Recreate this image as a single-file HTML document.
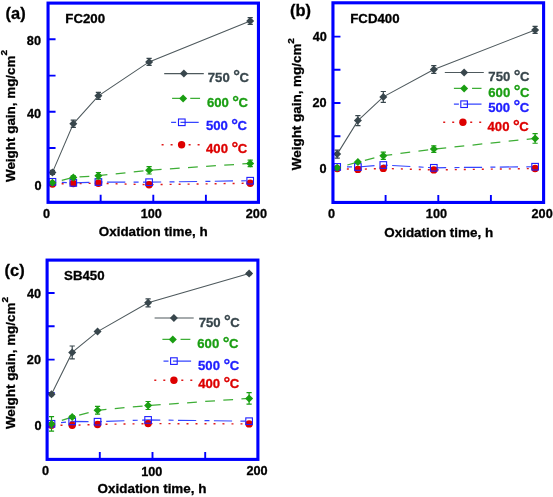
<!DOCTYPE html>
<html><head><meta charset="utf-8"><title>Weight gain vs oxidation time</title><style>html,body{margin:0;padding:0;background:#fff;}svg{display:block;}text{font-family:"Liberation Sans",Arial,sans-serif;font-weight:bold;}</style></head><body>
<svg width="553" height="497" viewBox="0 0 553 497">
<rect width="553" height="497" fill="#ffffff"/>
<clipPath id="clipa"><rect x="48.05" y="3.1" width="210.39999999999998" height="199.25"/></clipPath>
<path d="M48.05,184.2 H55.55 M48.05,148.0 H55.55 M48.05,111.8 H55.55 M48.05,75.6 H55.55 M48.05,39.3 H55.55 M100.65,202.35 V194.85 M153.3,202.35 V194.85 M205.9,202.35 V194.85" stroke="#0000ff" stroke-width="1.9" fill="none"/>
<g clip-path="url(#clipa)">
<polyline points="52.45,184.0 73.3,183.5 98.4,183.3 149.1,184.7 250.2,183.2" fill="none" stroke="#e01818" stroke-width="1.4" stroke-dasharray="2.0 7.0" stroke-dashoffset="8.82"/>
<polyline points="52.45,181.8 73.3,182.9 98.4,182.0 149.1,182.2 250.2,180.7" fill="none" stroke="#3545ff" stroke-width="1.2" stroke-dasharray="18.2 8.3 5 4.4" stroke-dashoffset="17.10"/>
<polyline points="52.45,182.8 73.3,177.4 98.4,175.7 149.1,170.3 250.2,163.4" fill="none" stroke="#3eae36" stroke-width="1.25" stroke-dasharray="9.8 8.35" stroke-dashoffset="8.51"/>
<polyline points="52.45,172.4 73.3,123.8 98.4,95.8 149.1,61.9 250.2,21.0" fill="none" stroke="#4e595d" stroke-width="1.05"/>
<circle cx="52.45" cy="184.0" r="3.7" fill="#dd0000"/>
<circle cx="73.3" cy="183.5" r="3.7" fill="#dd0000"/>
<circle cx="98.4" cy="183.3" r="3.7" fill="#dd0000"/>
<circle cx="149.1" cy="184.7" r="3.7" fill="#dd0000"/>
<circle cx="250.2" cy="183.2" r="3.7" fill="#dd0000"/>
<rect x="49.150000000000006" y="178.5" width="6.6" height="6.6" fill="none" stroke="#1e1eff" stroke-width="1.1"/>
<rect x="70.0" y="179.6" width="6.6" height="6.6" fill="none" stroke="#1e1eff" stroke-width="1.1"/>
<rect x="95.10000000000001" y="178.7" width="6.6" height="6.6" fill="none" stroke="#1e1eff" stroke-width="1.1"/>
<rect x="145.79999999999998" y="178.89999999999998" width="6.6" height="6.6" fill="none" stroke="#1e1eff" stroke-width="1.1"/>
<rect x="246.89999999999998" y="177.39999999999998" width="6.6" height="6.6" fill="none" stroke="#1e1eff" stroke-width="1.1"/>

<path d="M52.45,178.8 L56.45,182.8 L52.45,186.8 L48.45,182.8 Z" fill="#1a9e12"/>
<path d="M73.3,175.9 V178.9 M70.7,175.9 H75.89999999999999 M70.7,178.9 H75.89999999999999" stroke="#1a9e12" stroke-width="1.2" fill="none"/>
<path d="M73.3,173.4 L77.3,177.4 L73.3,181.4 L69.3,177.4 Z" fill="#1a9e12"/>
<path d="M98.4,172.5 V178.89999999999998 M95.80000000000001,172.5 H101.0 M95.80000000000001,178.89999999999998 H101.0" stroke="#1a9e12" stroke-width="1.2" fill="none"/>
<path d="M98.4,171.7 L102.4,175.7 L98.4,179.7 L94.4,175.7 Z" fill="#1a9e12"/>
<path d="M149.1,166.60000000000002 V174.0 M146.5,166.60000000000002 H151.7 M146.5,174.0 H151.7" stroke="#1a9e12" stroke-width="1.2" fill="none"/>
<path d="M149.1,166.3 L153.1,170.3 L149.1,174.3 L145.1,170.3 Z" fill="#1a9e12"/>
<path d="M250.2,160.20000000000002 V166.6 M247.6,160.20000000000002 H252.79999999999998 M247.6,166.6 H252.79999999999998" stroke="#1a9e12" stroke-width="1.2" fill="none"/>
<path d="M250.2,159.4 L254.2,163.4 L250.2,167.4 L246.2,163.4 Z" fill="#1a9e12"/>
<path d="M52.45,170.4 V174.4 M49.85,170.4 H55.050000000000004 M49.85,174.4 H55.050000000000004" stroke="#38464c" stroke-width="1.2" fill="none"/>
<path d="M52.45,168.4 L56.45,172.4 L52.45,176.4 L48.45,172.4 Z" fill="#38464c"/>
<path d="M73.3,120.2 V127.39999999999999 M70.7,120.2 H75.89999999999999 M70.7,127.39999999999999 H75.89999999999999" stroke="#38464c" stroke-width="1.2" fill="none"/>
<path d="M73.3,119.8 L77.3,123.8 L73.3,127.8 L69.3,123.8 Z" fill="#38464c"/>
<path d="M98.4,92.3 V99.3 M95.80000000000001,92.3 H101.0 M95.80000000000001,99.3 H101.0" stroke="#38464c" stroke-width="1.2" fill="none"/>
<path d="M98.4,91.8 L102.4,95.8 L98.4,99.8 L94.4,95.8 Z" fill="#38464c"/>
<path d="M149.1,58.4 V65.4 M146.5,58.4 H151.7 M146.5,65.4 H151.7" stroke="#38464c" stroke-width="1.2" fill="none"/>
<path d="M149.1,57.9 L153.1,61.9 L149.1,65.9 L145.1,61.9 Z" fill="#38464c"/>
<path d="M250.2,17.6 V24.4 M247.6,17.6 H252.79999999999998 M247.6,24.4 H252.79999999999998" stroke="#38464c" stroke-width="1.2" fill="none"/>
<path d="M250.2,17.0 L254.2,21.0 L250.2,25.0 L246.2,21.0 Z" fill="#38464c"/>
</g>
<path d="M164.2,73.6 H203.8" stroke="#4e595d" stroke-width="1.05"/>
<path d="M183.9,69.6 L187.9,73.6 L183.9,77.6 L179.9,73.6 Z" fill="#38464c"/>
<path d="M172.1,98.4 H200.2" stroke="#3eae36" stroke-width="1.25" stroke-dasharray="9.8 8.35"/>
<path d="M183.1,94.4 L187.1,98.4 L183.1,102.4 L179.1,98.4 Z" fill="#1a9e12"/>
<path d="M171.1,122.3 H199.2" stroke="#3545ff" stroke-width="1.2" stroke-dasharray="18.2 8.3 5 4.4" stroke-dashoffset="26.5"/>
<rect x="178.5" y="119.0" width="6.6" height="6.6" fill="none" stroke="#1e1eff" stroke-width="1.1"/>
<path d="M161.6,144.7 H200.3" stroke="#e01818" stroke-width="1.4" stroke-dasharray="2.0 7.0"/>
<circle cx="181.6" cy="144.7" r="3.7" fill="#dd0000"/>
<rect x="48.05" y="3.1" width="210.39999999999998" height="199.25" fill="none" stroke="#0000ff" stroke-width="3.1"/>
<clipPath id="clipb"><rect x="332.95" y="2.8" width="210.65000000000003" height="199.64999999999998"/></clipPath>
<path d="M332.95,169.4 H340.45 M332.95,136.2 H340.45 M332.95,103.0 H340.45 M332.95,69.8 H340.45 M332.95,36.6 H340.45 M385.6,202.45 V194.95 M438.3,202.45 V194.95 M490.9,202.45 V194.95" stroke="#0000ff" stroke-width="1.9" fill="none"/>
<g clip-path="url(#clipb)">
<polyline points="337.2,168.6 357.9,169.4 383.3,168.4 433.8,169.9 535.1,168.5" fill="none" stroke="#e01818" stroke-width="1.4" stroke-dasharray="2.0 7.0" stroke-dashoffset="8.34"/>
<polyline points="337.2,166.9 357.9,167.0 383.3,165.0 433.8,167.8 535.1,166.7" fill="none" stroke="#3545ff" stroke-width="1.2" stroke-dasharray="18.2 8.3 5 4.4" stroke-dashoffset="16.74"/>
<polyline points="337.2,167.8 357.9,162.1 383.3,155.7 433.8,149.1 535.1,138.4" fill="none" stroke="#3eae36" stroke-width="1.25" stroke-dasharray="9.8 8.35" stroke-dashoffset="7.64"/>
<polyline points="337.2,154.1 357.9,120.6 383.3,96.9 433.8,69.5 535.1,29.9" fill="none" stroke="#4e595d" stroke-width="1.05"/>
<circle cx="337.2" cy="168.6" r="3.7" fill="#dd0000"/>
<circle cx="357.9" cy="169.4" r="3.7" fill="#dd0000"/>
<circle cx="383.3" cy="168.4" r="3.7" fill="#dd0000"/>
<circle cx="433.8" cy="169.9" r="3.7" fill="#dd0000"/>
<circle cx="535.1" cy="168.5" r="3.7" fill="#dd0000"/>
<rect x="333.9" y="163.6" width="6.6" height="6.6" fill="none" stroke="#1e1eff" stroke-width="1.1"/>
<rect x="354.59999999999997" y="163.7" width="6.6" height="6.6" fill="none" stroke="#1e1eff" stroke-width="1.1"/>
<rect x="380.0" y="161.7" width="6.6" height="6.6" fill="none" stroke="#1e1eff" stroke-width="1.1"/>
<rect x="430.5" y="164.5" width="6.6" height="6.6" fill="none" stroke="#1e1eff" stroke-width="1.1"/>
<rect x="531.8000000000001" y="163.39999999999998" width="6.6" height="6.6" fill="none" stroke="#1e1eff" stroke-width="1.1"/>

<path d="M337.2,163.8 L341.2,167.8 L337.2,171.8 L333.2,167.8 Z" fill="#1a9e12"/>

<path d="M357.9,158.1 L361.9,162.1 L357.9,166.1 L353.9,162.1 Z" fill="#1a9e12"/>
<path d="M383.3,152.1 V159.29999999999998 M380.7,152.1 H385.90000000000003 M380.7,159.29999999999998 H385.90000000000003" stroke="#1a9e12" stroke-width="1.2" fill="none"/>
<path d="M383.3,151.7 L387.3,155.7 L383.3,159.7 L379.3,155.7 Z" fill="#1a9e12"/>
<path d="M433.8,145.9 V152.29999999999998 M431.2,145.9 H436.40000000000003 M431.2,152.29999999999998 H436.40000000000003" stroke="#1a9e12" stroke-width="1.2" fill="none"/>
<path d="M433.8,145.1 L437.8,149.1 L433.8,153.1 L429.8,149.1 Z" fill="#1a9e12"/>
<path d="M535.1,133.55 V143.25 M532.5,133.55 H537.7 M532.5,143.25 H537.7" stroke="#1a9e12" stroke-width="1.2" fill="none"/>
<path d="M535.1,134.4 L539.1,138.4 L535.1,142.4 L531.1,138.4 Z" fill="#1a9e12"/>
<path d="M337.2,150.1 V158.1 M334.59999999999997,150.1 H339.8 M334.59999999999997,158.1 H339.8" stroke="#38464c" stroke-width="1.2" fill="none"/>
<path d="M337.2,150.1 L341.2,154.1 L337.2,158.1 L333.2,154.1 Z" fill="#38464c"/>
<path d="M357.9,115.6 V125.6 M355.29999999999995,115.6 H360.5 M355.29999999999995,125.6 H360.5" stroke="#38464c" stroke-width="1.2" fill="none"/>
<path d="M357.9,116.6 L361.9,120.6 L357.9,124.6 L353.9,120.6 Z" fill="#38464c"/>
<path d="M383.3,91.5 V102.30000000000001 M380.7,91.5 H385.90000000000003 M380.7,102.30000000000001 H385.90000000000003" stroke="#38464c" stroke-width="1.2" fill="none"/>
<path d="M383.3,92.9 L387.3,96.9 L383.3,100.9 L379.3,96.9 Z" fill="#38464c"/>
<path d="M433.8,65.6 V73.4 M431.2,65.6 H436.40000000000003 M431.2,73.4 H436.40000000000003" stroke="#38464c" stroke-width="1.2" fill="none"/>
<path d="M433.8,65.5 L437.8,69.5 L433.8,73.5 L429.8,69.5 Z" fill="#38464c"/>
<path d="M535.1,26.4 V33.4 M532.5,26.4 H537.7 M532.5,33.4 H537.7" stroke="#38464c" stroke-width="1.2" fill="none"/>
<path d="M535.1,25.9 L539.1,29.9 L535.1,33.9 L531.1,29.9 Z" fill="#38464c"/>
</g>
<path d="M444.8,72.5 H483.8" stroke="#4e595d" stroke-width="1.05"/>
<path d="M464.1,68.5 L468.1,72.5 L464.1,76.5 L460.1,72.5 Z" fill="#38464c"/>
<path d="M453.9,88.4 H481.5" stroke="#3eae36" stroke-width="1.25" stroke-dasharray="9.8 8.35"/>
<path d="M464.1,84.4 L468.1,88.4 L464.1,92.4 L460.1,88.4 Z" fill="#1a9e12"/>
<path d="M453.9,104.2 H481.5" stroke="#3545ff" stroke-width="1.2" stroke-dasharray="18.2 8.3 5 4.4" stroke-dashoffset="26.5"/>
<rect x="460.8" y="100.9" width="6.6" height="6.6" fill="none" stroke="#1e1eff" stroke-width="1.1"/>
<path d="M443.2,122.2 H481.7" stroke="#e01818" stroke-width="1.4" stroke-dasharray="2.0 7.0"/>
<circle cx="462.9" cy="122.2" r="3.7" fill="#dd0000"/>
<rect x="332.95" y="2.8" width="210.65000000000003" height="199.64999999999998" fill="none" stroke="#0000ff" stroke-width="3.1"/>
<clipPath id="clipc"><rect x="47.1" y="260.1" width="210.79999999999998" height="199.29999999999995"/></clipPath>
<path d="M47.1,426.2 H54.6 M47.1,392.9 H54.6 M47.1,359.6 H54.6 M47.1,326.3 H54.6 M47.1,293.0 H54.6 M99.8,459.4 V451.9 M152.5,459.4 V451.9 M205.2,459.4 V451.9" stroke="#0000ff" stroke-width="1.9" fill="none"/>
<g clip-path="url(#clipc)">
<polyline points="51.5,425.2 72.2,425.3 97.55,424.45 148.1,423.6 249.1,423.9" fill="none" stroke="#e01818" stroke-width="1.4" stroke-dasharray="2.0 7.0" stroke-dashoffset="8.98"/>
<polyline points="51.5,423.8 72.2,421.4 97.55,421.7 148.1,419.9 249.1,421.2" fill="none" stroke="#3545ff" stroke-width="1.2" stroke-dasharray="18.2 8.3 5 4.4" stroke-dashoffset="16.93"/>
<polyline points="51.5,423.9 72.2,417.0 97.55,410.3 148.1,405.5 249.1,398.4" fill="none" stroke="#3eae36" stroke-width="1.25" stroke-dasharray="9.8 8.35" stroke-dashoffset="7.28"/>
<polyline points="51.5,394.2 72.2,352.4 97.55,331.6 148.1,302.8 249.1,273.6" fill="none" stroke="#4e595d" stroke-width="1.05"/>
<circle cx="51.5" cy="425.2" r="3.7" fill="#dd0000"/>
<circle cx="72.2" cy="425.3" r="3.7" fill="#dd0000"/>
<circle cx="97.55" cy="424.45" r="3.7" fill="#dd0000"/>
<circle cx="148.1" cy="423.6" r="3.7" fill="#dd0000"/>
<circle cx="249.1" cy="423.9" r="3.7" fill="#dd0000"/>
<rect x="48.2" y="420.5" width="6.6" height="6.6" fill="none" stroke="#1e1eff" stroke-width="1.1"/>
<rect x="68.9" y="418.09999999999997" width="6.6" height="6.6" fill="none" stroke="#1e1eff" stroke-width="1.1"/>
<rect x="94.25" y="418.4" width="6.6" height="6.6" fill="none" stroke="#1e1eff" stroke-width="1.1"/>
<rect x="144.79999999999998" y="416.59999999999997" width="6.6" height="6.6" fill="none" stroke="#1e1eff" stroke-width="1.1"/>
<rect x="245.79999999999998" y="417.9" width="6.6" height="6.6" fill="none" stroke="#1e1eff" stroke-width="1.1"/>
<path d="M51.5,416.7 V431.09999999999997 M48.9,416.7 H54.1 M48.9,431.09999999999997 H54.1" stroke="#1a9e12" stroke-width="1.2" fill="none"/>
<path d="M51.5,419.9 L55.5,423.9 L51.5,427.9 L47.5,423.9 Z" fill="#1a9e12"/>
<path d="M72.2,415.5 V418.5 M69.60000000000001,415.5 H74.8 M69.60000000000001,418.5 H74.8" stroke="#1a9e12" stroke-width="1.2" fill="none"/>
<path d="M72.2,413.0 L76.2,417.0 L72.2,421.0 L68.2,417.0 Z" fill="#1a9e12"/>
<path d="M97.55,406.40000000000003 V414.2 M94.95,406.40000000000003 H100.14999999999999 M94.95,414.2 H100.14999999999999" stroke="#1a9e12" stroke-width="1.2" fill="none"/>
<path d="M97.55,406.3 L101.55,410.3 L97.55,414.3 L93.55,410.3 Z" fill="#1a9e12"/>
<path d="M148.1,401.5 V409.5 M145.5,401.5 H150.7 M145.5,409.5 H150.7" stroke="#1a9e12" stroke-width="1.2" fill="none"/>
<path d="M148.1,401.5 L152.1,405.5 L148.1,409.5 L144.1,405.5 Z" fill="#1a9e12"/>
<path d="M249.1,392.7 V404.09999999999997 M246.5,392.7 H251.7 M246.5,404.09999999999997 H251.7" stroke="#1a9e12" stroke-width="1.2" fill="none"/>
<path d="M249.1,394.4 L253.1,398.4 L249.1,402.4 L245.1,398.4 Z" fill="#1a9e12"/>
<path d="M51.5,392.7 V395.7 M48.9,392.7 H54.1 M48.9,395.7 H54.1" stroke="#38464c" stroke-width="1.2" fill="none"/>
<path d="M51.5,390.2 L55.5,394.2 L51.5,398.2 L47.5,394.2 Z" fill="#38464c"/>
<path d="M72.2,346.0 V358.79999999999995 M69.60000000000001,346.0 H74.8 M69.60000000000001,358.79999999999995 H74.8" stroke="#38464c" stroke-width="1.2" fill="none"/>
<path d="M72.2,348.4 L76.2,352.4 L72.2,356.4 L68.2,352.4 Z" fill="#38464c"/>

<path d="M97.55,327.6 L101.55,331.6 L97.55,335.6 L93.55,331.6 Z" fill="#38464c"/>
<path d="M148.1,298.8 V306.8 M145.5,298.8 H150.7 M145.5,306.8 H150.7" stroke="#38464c" stroke-width="1.2" fill="none"/>
<path d="M148.1,298.8 L152.1,302.8 L148.1,306.8 L144.1,302.8 Z" fill="#38464c"/>
<path d="M249.1,272.6 V274.6 M246.5,272.6 H251.7 M246.5,274.6 H251.7" stroke="#38464c" stroke-width="1.2" fill="none"/>
<path d="M249.1,269.6 L253.1,273.6 L249.1,277.6 L245.1,273.6 Z" fill="#38464c"/>
</g>
<path d="M154.6,317.9 H193.7" stroke="#4e595d" stroke-width="1.05"/>
<path d="M173.9,313.9 L177.9,317.9 L173.9,321.9 L169.9,317.9 Z" fill="#38464c"/>
<path d="M162.4,339.4 H190.4" stroke="#3eae36" stroke-width="1.25" stroke-dasharray="9.8 8.35"/>
<path d="M172.8,335.4 L176.8,339.4 L172.8,343.4 L168.8,339.4 Z" fill="#1a9e12"/>
<path d="M163.5,361.1 H191.3" stroke="#3545ff" stroke-width="1.2" stroke-dasharray="18.2 8.3 5 4.4" stroke-dashoffset="26.5"/>
<rect x="170.6" y="357.8" width="6.6" height="6.6" fill="none" stroke="#1e1eff" stroke-width="1.1"/>
<path d="M154.3,380.3 H193.1" stroke="#e01818" stroke-width="1.4" stroke-dasharray="2.0 7.0"/>
<circle cx="173.9" cy="380.3" r="3.7" fill="#dd0000"/>
<rect x="47.1" y="260.1" width="210.79999999999998" height="199.29999999999995" fill="none" stroke="#0000ff" stroke-width="3.1"/>
<text font-size="15" fill="#000000" stroke="#000000" stroke-width="0.28" transform="translate(5.54,19.15) scale(1.0969,1.0713)">(a)</text>
<text font-size="15" fill="#000000" stroke="#000000" stroke-width="0.28" transform="translate(289.98,16.10) scale(1.0969,1.0713)">(b)</text>
<text font-size="15" fill="#000000" stroke="#000000" stroke-width="0.28" transform="translate(4.54,276.15) scale(1.0969,1.0713)">(c)</text>
<text font-size="12" fill="#000000" stroke="#000000" stroke-width="0.28" transform="translate(65.30,23.00) scale(1.1056,1.0171)">FC200</text>
<text font-size="12" fill="#000000" stroke="#000000" stroke-width="0.28" transform="translate(350.22,22.80) scale(1.1056,1.0171)">FCD400</text>
<text font-size="12" fill="#000000" stroke="#000000" stroke-width="0.28" transform="translate(64.06,280.20) scale(1.1056,1.0171)">SB450</text>
<text font-size="12" fill="#000000" stroke="#000000" stroke-width="0.28" transform="translate(26.84,45.02) scale(1.0600,1.0000)">80</text>
<text font-size="12" fill="#000000" stroke="#000000" stroke-width="0.28" transform="translate(27.03,117.63) scale(1.0600,1.0000)">40</text>
<text font-size="12" fill="#000000" stroke="#000000" stroke-width="0.28" transform="translate(34.51,189.77) scale(1.0600,1.0000)">0</text>
<text font-size="12" fill="#000000" stroke="#000000" stroke-width="0.28" transform="translate(312.76,41.12) scale(1.0600,1.0000)">40</text>
<text font-size="12" fill="#000000" stroke="#000000" stroke-width="0.28" transform="translate(312.48,106.98) scale(1.0600,1.0000)">20</text>
<text font-size="12" fill="#000000" stroke="#000000" stroke-width="0.28" transform="translate(319.60,172.93) scale(1.0600,1.0000)">0</text>
<text font-size="12" fill="#000000" stroke="#000000" stroke-width="0.28" transform="translate(27.03,297.83) scale(1.0600,1.0000)">40</text>
<text font-size="12" fill="#000000" stroke="#000000" stroke-width="0.28" transform="translate(26.85,364.30) scale(1.0600,1.0000)">20</text>
<text font-size="12" fill="#000000" stroke="#000000" stroke-width="0.28" transform="translate(34.40,429.93) scale(1.0600,1.0000)">0</text>
<text font-size="12" fill="#000000" stroke="#000000" stroke-width="0.28" transform="translate(43.05,218.04) scale(1.0600,1.0000)">0</text>
<text font-size="12" fill="#000000" stroke="#000000" stroke-width="0.28" transform="translate(140.72,218.23) scale(1.0600,1.0000)">100</text>
<text font-size="12" fill="#000000" stroke="#000000" stroke-width="0.28" transform="translate(245.80,218.00) scale(1.0600,1.0000)">200</text>
<text font-size="12" fill="#000000" stroke="#000000" stroke-width="0.28" transform="translate(328.00,217.53) scale(1.0600,1.0000)">0</text>
<text font-size="12" fill="#000000" stroke="#000000" stroke-width="0.28" transform="translate(425.82,218.23) scale(1.0600,1.0000)">100</text>
<text font-size="12" fill="#000000" stroke="#000000" stroke-width="0.28" transform="translate(531.55,218.20) scale(1.0600,1.0000)">200</text>
<text font-size="12" fill="#000000" stroke="#000000" stroke-width="0.28" transform="translate(42.05,474.93) scale(1.0600,1.0000)">0</text>
<text font-size="12" fill="#000000" stroke="#000000" stroke-width="0.28" transform="translate(141.17,476.02) scale(1.0600,1.0000)">100</text>
<text font-size="12" fill="#000000" stroke="#000000" stroke-width="0.28" transform="translate(246.40,475.39) scale(1.0600,1.0000)">200</text>
<text font-size="12" fill="#000000" stroke="#000000" stroke-width="0.28" transform="translate(98.82,235.91) scale(1.1192,1.0148)">Oxidation time, h</text>
<text font-size="12" fill="#000000" stroke="#000000" stroke-width="0.28" transform="translate(384.32,236.81) scale(1.1192,1.0148)">Oxidation time, h</text>
<text font-size="12" fill="#000000" stroke="#000000" stroke-width="0.28" transform="translate(97.62,493.31) scale(1.1192,1.0148)">Oxidation time, h</text>
<text font-size="12" fill="#000000" stroke="#000000" stroke-width="0.28" transform="translate(14.54,182.02) rotate(-90) scale(1.1198,1.0514)">Weight gain, mg/cm<tspan font-size="9" dy="-7">2</tspan></text>
<text font-size="12" fill="#000000" stroke="#000000" stroke-width="0.28" transform="translate(301.14,170.15) rotate(-90) scale(1.1198,1.0514)">Weight gain, mg/cm<tspan font-size="9" dy="-7">2</tspan></text>
<text font-size="12" fill="#000000" stroke="#000000" stroke-width="0.28" transform="translate(15.19,429.07) rotate(-90) scale(1.1198,1.0514)">Weight gain, mg/cm<tspan font-size="9" dy="-7">2</tspan></text>
<text font-size="12.5" fill="#38464c" stroke="#38464c" stroke-width="0.28" transform="translate(207.78,81.53) scale(1.0535,1.0306)">750 <tspan font-size="16" dx="-0.2" dy="0.6">°</tspan><tspan dx="-0.5" dy="-0.6">C</tspan></text>
<text font-size="12.5" fill="#1a9e12" stroke="#1a9e12" stroke-width="0.28" transform="translate(206.89,106.99) scale(1.0535,1.0306)">600 <tspan font-size="16" dx="-0.2" dy="0.6">°</tspan><tspan dx="-0.5" dy="-0.6">C</tspan></text>
<text font-size="12.5" fill="#1e1eff" stroke="#1e1eff" stroke-width="0.28" transform="translate(205.91,130.23) scale(1.0535,1.0306)">500 <tspan font-size="16" dx="-0.2" dy="0.6">°</tspan><tspan dx="-0.5" dy="-0.6">C</tspan></text>
<text font-size="12.5" fill="#dd0000" stroke="#dd0000" stroke-width="0.28" transform="translate(206.04,153.13) scale(1.0535,1.0306)">400 <tspan font-size="16" dx="-0.2" dy="0.6">°</tspan><tspan dx="-0.5" dy="-0.6">C</tspan></text>
<text font-size="12.5" fill="#38464c" stroke="#38464c" stroke-width="0.28" transform="translate(488.33,81.08) scale(1.0535,1.0306)">750 <tspan font-size="16" dx="-0.2" dy="0.6">°</tspan><tspan dx="-0.5" dy="-0.6">C</tspan></text>
<text font-size="12.5" fill="#1a9e12" stroke="#1a9e12" stroke-width="0.28" transform="translate(488.28,96.58) scale(1.0535,1.0306)">600 <tspan font-size="16" dx="-0.2" dy="0.6">°</tspan><tspan dx="-0.5" dy="-0.6">C</tspan></text>
<text font-size="12.5" fill="#1e1eff" stroke="#1e1eff" stroke-width="0.28" transform="translate(488.16,111.63) scale(1.0535,1.0306)">500 <tspan font-size="16" dx="-0.2" dy="0.6">°</tspan><tspan dx="-0.5" dy="-0.6">C</tspan></text>
<text font-size="12.5" fill="#dd0000" stroke="#dd0000" stroke-width="0.28" transform="translate(487.53,130.93) scale(1.0535,1.0306)">400 <tspan font-size="16" dx="-0.2" dy="0.6">°</tspan><tspan dx="-0.5" dy="-0.6">C</tspan></text>
<text font-size="12.5" fill="#38464c" stroke="#38464c" stroke-width="0.28" transform="translate(198.65,326.63) scale(1.0535,1.0306)">750 <tspan font-size="16" dx="-0.2" dy="0.6">°</tspan><tspan dx="-0.5" dy="-0.6">C</tspan></text>
<text font-size="12.5" fill="#1a9e12" stroke="#1a9e12" stroke-width="0.28" transform="translate(197.26,347.98) scale(1.0535,1.0306)">600 <tspan font-size="16" dx="-0.2" dy="0.6">°</tspan><tspan dx="-0.5" dy="-0.6">C</tspan></text>
<text font-size="12.5" fill="#1e1eff" stroke="#1e1eff" stroke-width="0.28" transform="translate(198.01,369.98) scale(1.0535,1.0306)">500 <tspan font-size="16" dx="-0.2" dy="0.6">°</tspan><tspan dx="-0.5" dy="-0.6">C</tspan></text>
<text font-size="12.5" fill="#dd0000" stroke="#dd0000" stroke-width="0.28" transform="translate(198.16,388.38) scale(1.0535,1.0306)">400 <tspan font-size="16" dx="-0.2" dy="0.6">°</tspan><tspan dx="-0.5" dy="-0.6">C</tspan></text>
</svg>
</body></html>
